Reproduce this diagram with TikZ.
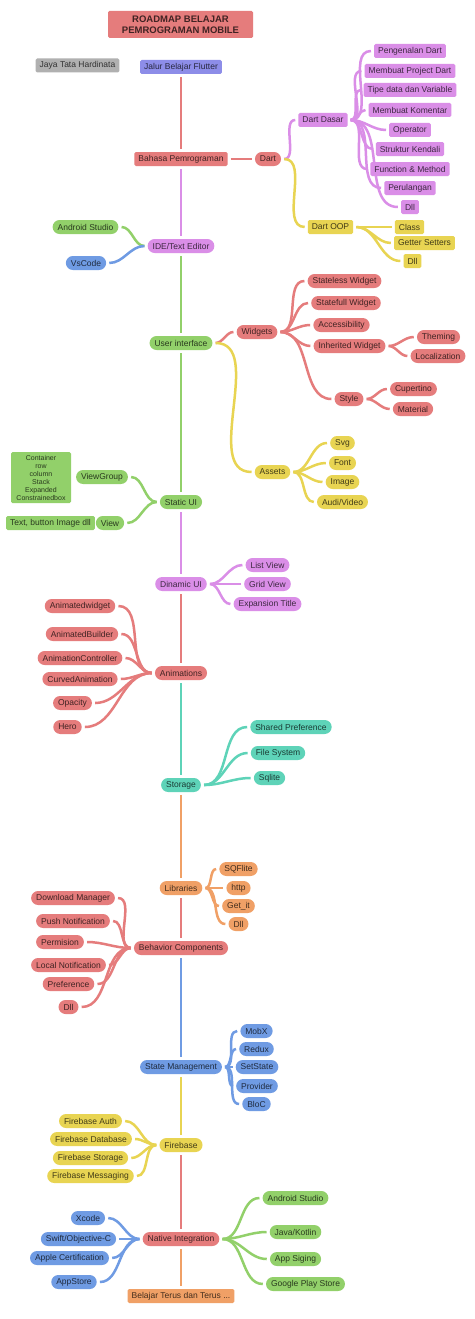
\documentclass[tikz,border=0pt]{standalone}
\usepackage{fontspec}
\setmainfont{Liberation Sans}
\usetikzlibrary{backgrounds}
\definecolor{cred}{HTML}{E57C7C}
\definecolor{cpur}{HTML}{DA8EE7}
\definecolor{cgrn}{HTML}{92D06A}
\definecolor{cblu}{HTML}{6F9BE3}
\definecolor{cyel}{HTML}{E8D452}
\definecolor{ctea}{HTML}{5ED3B8}
\definecolor{cora}{HTML}{F0A066}
\definecolor{cgry}{HTML}{B0B0B0}
\definecolor{cjal}{HTML}{8D8DE8}

\begin{document}
\begin{tikzpicture}[x=1pt,y=-1pt,font=\fontsize{8.5}{10}\selectfont,
  pill/.style={rounded corners=7pt,fill=#1,text=#1!28!black,minimum height=14pt,inner xsep=5pt,inner ysep=0pt},
  rbox/.style={rounded corners=1.5pt,fill=#1,text=#1!28!black,minimum height=14pt,inner xsep=4pt,inner ysep=0pt},
  link/.style={draw=#1,line width=2.5pt,shorten <=3pt,shorten >=3pt},
  toR/.style={out=0,in=180},toL/.style={out=180,in=0}]
\useasboundingbox (0,0) rectangle (474,1319);

% header
\node[rbox=cred,font=\bfseries\fontsize{9.5}{11}\selectfont,align=center,minimum width=145pt,minimum height=27pt] (title) at (180.5,24.5) {ROADMAP BELAJAR\\PEMROGRAMAN MOBILE};
\node[rbox=cgry] (author) at (77.5,65.5) {Jaya Tata Hardinata};
\node[rbox=cjal] (jalur) at (181,67) {Jalur Belajar Flutter};

% bahasa
\node[rbox=cred] (bahasa) at (181,159) {Bahasa Pemrograman};
\node[pill=cred] (dart) at (268,159) {Dart};
\node[rbox=cpur] (dasar) at (323,120) {Dart Dasar};
\node[rbox=cpur] (d1) at (410,51) {Pengenalan Dart};
\node[rbox=cpur] (d2) at (410,71) {Membuat Project Dart};
\node[rbox=cpur] (d3) at (410,90) {Tipe data dan Variable};
\node[rbox=cpur] (d4) at (410,110) {Membuat Komentar};
\node[rbox=cpur] (d5) at (410,130) {Operator};
\node[rbox=cpur] (d6) at (410,149) {Struktur Kendali};
\node[rbox=cpur] (d7) at (410,169) {Function \& Method};
\node[rbox=cpur] (d8) at (410,188) {Perulangan};
\node[rbox=cpur] (d9) at (410,207) {Dll};
\node[rbox=cyel] (oop) at (330.5,227) {Dart OOP};
\node[rbox=cyel] (o1) at (409.5,227) {Class};
\node[rbox=cyel] (o2) at (424.5,243) {Getter Setters};
\node[rbox=cyel] (o3) at (412.5,261) {Dll};

% ide
\node[pill=cpur] (ide) at (181,246) {IDE/Text Editor};
\node[pill=cgrn] (studio) at (85.5,227) {Android Studio};
\node[pill=cblu] (vscode) at (86,263) {VsCode};

% user interface
\node[pill=cgrn] (ui) at (181,343) {User interface};
\node[pill=cred] (widgets) at (257,332) {Widgets};
\node[pill=cred] (w1) at (344.5,281) {Stateless Widget};
\node[pill=cred] (w2) at (346,303) {Statefull Widget};
\node[pill=cred] (w3) at (341.5,325) {Accessibility};
\node[pill=cred] (inherit) at (349.5,346) {Inherited Widget};
\node[pill=cred] (theming) at (438.5,337) {Theming};
\node[pill=cred] (local) at (438,356) {Localization};
\node[pill=cred] (stl) at (349,399) {Style};
\node[pill=cred] (cupertino) at (413.5,389) {Cupertino};
\node[pill=cred] (material) at (413,409) {Material};
\node[pill=cyel] (assets) at (272.5,472) {Assets};
\node[pill=cyel] (a1) at (342.5,443) {Svg};
\node[pill=cyel] (a2) at (342.5,463) {Font};
\node[pill=cyel] (a3) at (342.5,482) {Image};
\node[pill=cyel] (a4) at (342.5,502) {Audi/Video};

% static / dinamic
\node[pill=cgrn] (static) at (181,502) {Static UI};
\node[pill=cgrn] (viewgroup) at (102,477) {ViewGroup};
\node[rbox=cgrn,font=\fontsize{7}{8}\selectfont,align=center,minimum width=60pt,minimum height=51pt] (widgetlist) at (41,477.5) {Container\\row\\column\\Stack\\Expanded\\Constrainedbox};
\node[pill=cgrn] (view) at (110,523) {View};
\node[rbox=cgrn] (viewlist) at (50.5,523) {Text, button Image dll};
\node[pill=cpur] (dinamic) at (181,584) {Dinamic UI};
\node[pill=cpur] (l1) at (267.5,565) {List View};
\node[pill=cpur] (l2) at (267.5,584) {Grid View};
\node[pill=cpur] (l3) at (267.5,604) {Expansion Title};

% animations / storage
\node[pill=cred] (anim) at (181,673) {Animations};
\node[pill=cred] (n1) at (80,606) {Animatedwidget};
\node[pill=cred] (n2) at (82,634) {AnimatedBuilder};
\node[pill=cred] (n3) at (80,658) {AnimationController};
\node[pill=cred] (n4) at (80,679) {CurvedAnimation};
\node[pill=cred] (n5) at (72.5,703) {Opacity};
\node[pill=cred] (n6) at (67.5,727) {Hero};
\node[pill=ctea] (storage) at (181,785) {Storage};
\node[pill=ctea] (s1) at (291,727) {Shared Preference};
\node[pill=ctea] (s2) at (278,753) {File System};
\node[pill=ctea] (s3) at (269.5,778) {Sqlite};

% libraries / behavior
\node[pill=cora] (libs) at (181,888) {Libraries};
\node[pill=cora] (b1) at (238.5,869) {SQFlite};
\node[pill=cora] (b2) at (238.5,888) {http};
\node[pill=cora] (b3) at (238.5,906) {Get\_it};
\node[pill=cora] (b4) at (238.5,924) {Dll};
\node[pill=cred] (behavior) at (181,948) {Behavior Components};
\node[pill=cred] (c1) at (73,898) {Download Manager};
\node[pill=cred] (c2) at (73,921) {Push Notification};
\node[pill=cred] (c3) at (60,942) {Permision};
\node[pill=cred] (c4) at (68.5,965) {Local Notification};
\node[pill=cred] (c5) at (68.5,984) {Preference};
\node[pill=cred] (c6) at (68.5,1007) {Dll};

% state / firebase
\node[pill=cblu] (state) at (181,1067) {State Management};
\node[pill=cblu] (m1) at (256.5,1031) {MobX};
\node[pill=cblu] (m2) at (256.5,1049) {Redux};
\node[pill=cblu] (m3) at (257,1067) {SetState};
\node[pill=cblu] (m4) at (257,1086) {Provider};
\node[pill=cblu] (m5) at (256.5,1104) {BloC};
\node[pill=cyel] (firebase) at (181,1145) {Firebase};
\node[pill=cyel] (f1) at (90.5,1121) {Firebase Auth};
\node[pill=cyel] (f2) at (91,1139) {Firebase Database};
\node[pill=cyel] (f3) at (90.5,1158) {Firebase Storage};
\node[pill=cyel] (f4) at (90.5,1176) {Firebase Messaging};

% native
\node[pill=cred] (native) at (181,1239) {Native Integration};
\node[pill=cblu] (x1) at (88,1218) {Xcode};
\node[pill=cblu] (x2) at (78.5,1239) {Swift/Objective-C};
\node[pill=cblu] (x3) at (69.5,1258) {Apple Certification};
\node[pill=cblu] (x4) at (74,1282) {AppStore};
\node[pill=cgrn] (g1) at (295.5,1198) {Android Studio};
\node[pill=cgrn] (g2) at (295.5,1232) {Java/Kotlin};
\node[pill=cgrn] (g3) at (295.5,1259) {App Siging};
\node[pill=cgrn] (g4) at (305.5,1284) {Google Play Store};
\node[rbox=cora] (belajar) at (181,1296) {Belajar Terus dan Terus ...};

\begin{scope}[on background layer]
\fill[white] (0,0) rectangle (474,1319);
% spine
\draw[link=cred] (jalur.south) -- (bahasa.north);
\draw[link=cpur] (bahasa.south) -- (ide.north);
\draw[link=cgrn] (ide.south) -- (ui.north);
\draw[link=cgrn] (ui.south) -- (static.north);
\draw[link=cpur] (static.south) -- (dinamic.north);
\draw[link=cred] (dinamic.south) -- (anim.north);
\draw[link=ctea] (anim.south) -- (storage.north);
\draw[link=cora] (storage.south) -- (libs.north);
\draw[link=cred] (libs.south) -- (behavior.north);
\draw[link=cblu] (behavior.south) -- (state.north);
\draw[link=cyel] (state.south) -- (firebase.north);
\draw[link=cred] (firebase.south) -- (native.north);
\draw[link=cora] (native.south) -- (belajar.north);

% branches
\draw[link=cred] (bahasa) -- (dart);
\draw[link=cpur] (dart.east) to[toR] (dasar.west);
\draw[link=cyel] (dart.east) to[toR] (oop.west);
\draw[link=cpur] (dasar.east) edge[toR] (d1.west) edge[toR] (d2.west) edge[toR] (d3.west)
  edge[toR] (d4.west) edge[toR] (d5.west) edge[toR] (d6.west) edge[toR] (d7.west)
  edge[toR] (d8.west) edge[toR] (d9.west);
\draw[link=cyel] (oop.east) edge[toR] (o1.west) edge[toR] (o2.west) edge[toR] (o3.west);
\draw[link=cgrn] (ide.west) to[toL] (studio.east);
\draw[link=cblu] (ide.west) to[toL] (vscode.east);
\draw[link=cred] (ui.east) to[toR] (widgets.west);
\draw[link=cyel] (ui.east) to[toR] (assets.west);
\draw[link=cred] (widgets.east) edge[toR] (w1.west) edge[toR] (w2.west) edge[toR] (w3.west)
  edge[toR] (inherit.west) edge[toR] (stl.west);
\draw[link=cred] (inherit.east) edge[toR] (theming.west) edge[toR] (local.west);
\draw[link=cred] (stl.east) edge[toR] (cupertino.west) edge[toR] (material.west);
\draw[link=cyel] (assets.east) edge[toR] (a1.west) edge[toR] (a2.west) edge[toR] (a3.west) edge[toR] (a4.west);
\draw[link=cgrn] (static.west) edge[toL] (viewgroup.east) edge[toL] (view.east);
\draw[link=cpur] (dinamic.east) edge[toR] (l1.west) edge[toR] (l2.west) edge[toR] (l3.west);
\draw[link=cred] (anim.west) edge[toL] (n1.east) edge[toL] (n2.east) edge[toL] (n3.east)
  edge[toL] (n4.east) edge[toL] (n5.east) edge[toL] (n6.east);
\draw[link=ctea] (storage.east) edge[toR] (s1.west) edge[toR] (s2.west) edge[toR] (s3.west);
\draw[link=cora] (libs.east) edge[toR] (b1.west) edge[toR] (b2.west) edge[toR] (b3.west) edge[toR] (b4.west);
\draw[link=cred] (behavior.west) edge[toL] (c1.east) edge[toL] (c2.east) edge[toL] (c3.east)
  edge[toL] (c4.east) edge[toL] (c5.east) edge[toL] (c6.east);
\draw[link=cblu] (state.east) edge[toR] (m1.west) edge[toR] (m2.west) edge[toR] (m3.west)
  edge[toR] (m4.west) edge[toR] (m5.west);
\draw[link=cyel] (firebase.west) edge[toL] (f1.east) edge[toL] (f2.east) edge[toL] (f3.east) edge[toL] (f4.east);
\draw[link=cblu] (native.west) edge[toL] (x1.east) edge[toL] (x2.east) edge[toL] (x3.east) edge[toL] (x4.east);
\draw[link=cgrn] (native.east) edge[toR] (g1.west) edge[toR] (g2.west) edge[toR] (g3.west) edge[toR] (g4.west);
\end{scope}
\end{tikzpicture}
\end{document}
